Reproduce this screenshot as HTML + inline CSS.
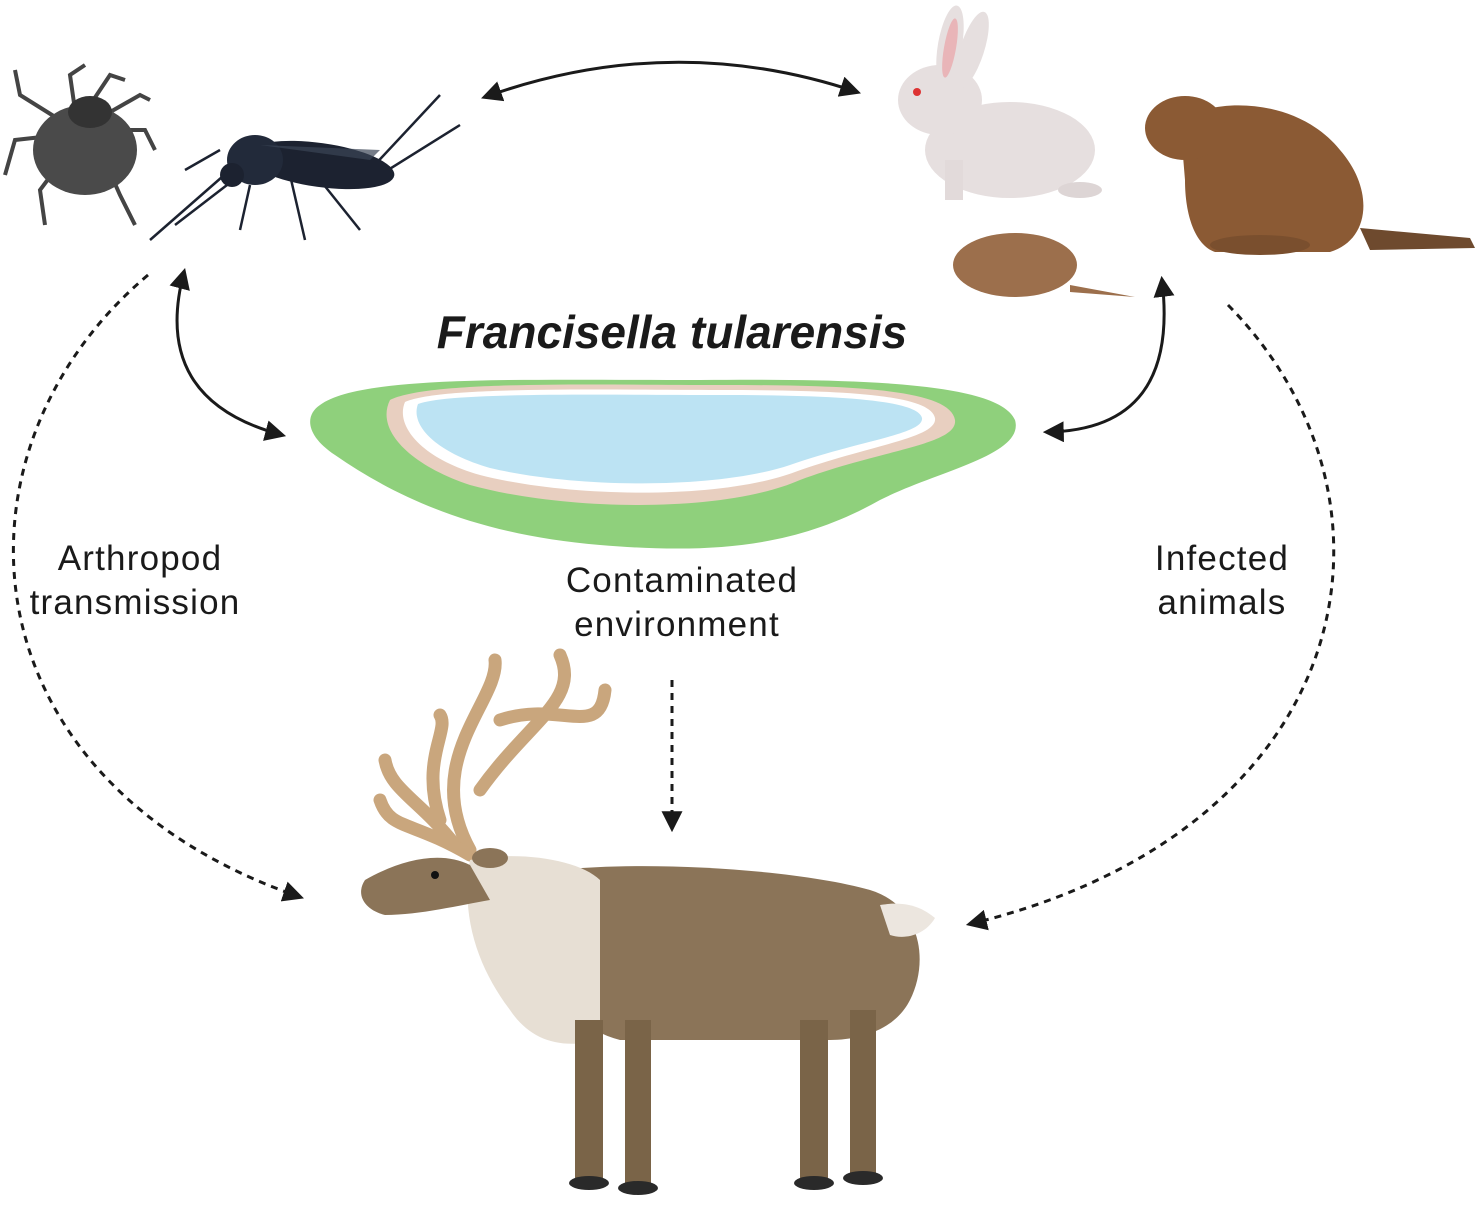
<!DOCTYPE html>
<html><head><meta charset="utf-8"><style>
html,body{margin:0;padding:0;background:#fff;width:1482px;height:1205px;overflow:hidden}
svg{display:block}
text{font-family:"Liberation Sans",sans-serif;fill:#1a1a1a}
</style></head><body>
<svg width="1482" height="1205" viewBox="0 0 1482 1205" xmlns="http://www.w3.org/2000/svg">
<defs>
<marker id="ah" viewBox="0 0 10 10" refX="8" refY="5" markerWidth="7" markerHeight="7" orient="auto-start-reverse"><path d="M0,0 L10,5 L0,10 z" fill="#1a1a1a"/></marker>
</defs>
<!-- tick -->
<g stroke="#444" stroke-width="4" fill="none">
<path d="M60,120 L20,95 L15,70"/><path d="M60,135 L15,140 L5,175"/><path d="M70,150 L40,190 L45,225"/><path d="M100,150 L120,195 L135,225"/><path d="M110,130 L145,130 L155,150"/><path d="M105,115 L140,95 L150,100"/><path d="M75,110 L70,75 L85,65"/><path d="M90,105 L110,75 L125,80"/>
</g>
<ellipse cx="85" cy="150" rx="52" ry="45" fill="#4a4a4a"/>
<ellipse cx="90" cy="112" rx="22" ry="16" fill="#333"/>
<!-- mosquito -->
<g stroke="#1c2230" stroke-width="2.5" fill="none">
<path d="M230,170 L150,240"/><path d="M240,175 L175,225"/><path d="M250,185 L240,230"/><path d="M290,175 L305,240"/><path d="M320,180 L360,230"/><path d="M370,170 L440,95"/><path d="M380,175 L460,125"/><path d="M220,150 L185,170"/>
</g>
<ellipse cx="320" cy="165" rx="75" ry="22" fill="#1c2230" transform="rotate(8 320 165)"/>
<ellipse cx="255" cy="160" rx="28" ry="25" fill="#222a3a"/>
<circle cx="232" cy="175" r="12" fill="#1c2230"/>
<path d="M260,145 L380,150 L370,160 Z" fill="#3a4455" opacity=".7"/>
<!-- rabbit -->
<ellipse cx="1010" cy="150" rx="85" ry="48" fill="#e6dfdf"/>
<ellipse cx="940" cy="100" rx="42" ry="35" fill="#e6dfdf"/>
<ellipse cx="950" cy="45" rx="12" ry="40" fill="#e6dfdf" transform="rotate(10 950 45)"/>
<ellipse cx="972" cy="50" rx="12" ry="40" fill="#e6dfdf" transform="rotate(18 972 50)"/>
<ellipse cx="950" cy="48" rx="6" ry="30" fill="#e9b5b8" transform="rotate(10 950 48)"/>
<rect x="945" y="160" width="18" height="40" fill="#e2dada"/>
<ellipse cx="1080" cy="190" rx="22" ry="8" fill="#ddd5d5"/>
<circle cx="917" cy="92" r="4" fill="#d33"/>
<!-- beaver -->
<path d="M1360,228 L1470,238 L1475,248 L1370,250 Z" fill="#6e4a2e"/>
<path d="M1180,120 C1220,95 1300,100 1340,150 C1375,190 1370,240 1330,252 L1215,252 C1195,245 1185,215 1185,180 Z" fill="#8b5a34"/>
<ellipse cx="1185" cy="128" rx="40" ry="32" fill="#8b5a34"/>
<ellipse cx="1260" cy="245" rx="50" ry="10" fill="#7a4f2e"/>
<!-- vole -->
<ellipse cx="1015" cy="265" rx="62" ry="32" fill="#9c6f4c"/>
<path d="M1070,285 L1135,297 L1070,292 Z" fill="#9c6f4c"/>
<!-- title -->
<text x="672" y="348" text-anchor="middle" font-size="46" font-weight="bold" font-style="italic">Francisella tularensis</text>
<!-- pond -->
<path d="M320,405 C360,375 520,380 700,380 C880,378 1000,385 1015,420 C1025,455 940,470 880,500 C800,545 720,555 600,545 C480,535 400,500 335,455 C305,435 305,415 320,405 Z" fill="#8fd07c"/>
<path d="M390,400 C430,380 600,385 720,385 C860,385 950,390 955,420 C958,445 880,450 800,480 C720,515 560,510 470,485 C410,465 375,430 390,400 Z" fill="#e8cfc0"/>
<path d="M405,402 C440,386 600,390 720,390 C850,390 930,395 935,418 C938,438 870,445 795,472 C720,500 570,498 480,475 C420,458 395,425 405,402 Z" fill="#fff"/>
<path d="M418,404 C450,392 600,395 720,395 C840,395 918,400 922,418 C924,434 862,440 790,465 C715,490 575,488 490,468 C435,452 410,425 418,404 Z" fill="#bce3f3"/>
<!-- solid arrows -->
<g stroke="#1a1a1a" stroke-width="3" fill="none">
<path d="M485,97 Q672,30 857,92" marker-start="url(#ah)" marker-end="url(#ah)"/>
<path d="M184,272 Q150,400 282,435" marker-start="url(#ah)" marker-end="url(#ah)"/>
<path d="M1047,432 Q1180,430 1162,280" marker-start="url(#ah)" marker-end="url(#ah)"/>
</g>
<!-- dashed arrows -->
<g stroke="#1a1a1a" stroke-width="3" fill="none" stroke-dasharray="7,6">
<path d="M148,275 C-60,450 -40,780 300,897" marker-end="url(#ah)"/>
<path d="M1228,305 C1420,500 1360,830 970,924" marker-end="url(#ah)"/>
<path d="M672,680 L672,828" marker-end="url(#ah)"/>
</g>
<!-- labels -->
<g font-size="35" text-anchor="middle" letter-spacing="1.2">
<text x="140" y="570">Arthropod</text><text x="135" y="614">transmission</text>
<text x="682" y="592">Contaminated</text><text x="677" y="636">environment</text>
<text x="1222" y="570">Infected</text><text x="1222" y="614">animals</text>
</g>
<!-- reindeer antlers -->
<g stroke="#c9a67d" stroke-width="13" fill="none" stroke-linecap="round">
<path d="M470,850 C420,760 500,700 495,660"/>
<path d="M480,790 C530,720 580,700 560,655"/>
<path d="M500,720 C560,700 600,740 605,690"/>
<path d="M455,845 C420,800 390,790 385,760"/>
<path d="M440,820 C420,760 450,730 440,715"/>
<path d="M470,855 C410,820 390,830 380,800"/>
</g>
<!-- reindeer body -->
<path d="M560,870 C650,860 800,870 870,890 C920,905 930,960 910,1000 C895,1030 860,1040 830,1040 L620,1040 C580,1030 560,1000 560,960 Z" fill="#8b7458"/>
<path d="M470,860 C520,850 580,860 600,880 L600,1040 C560,1050 530,1040 510,1010 C480,970 460,920 470,860 Z" fill="#e7dfd4"/>
<path d="M880,905 C910,900 925,910 935,918 C925,935 905,940 890,935 Z" fill="#ece6df"/>
<path d="M470,865 C440,850 400,860 365,880 C355,895 365,910 385,915 C420,915 460,905 490,900 Z" fill="#8b7458"/>
<ellipse cx="490" cy="858" rx="18" ry="10" fill="#8b7458"/>
<g fill="#7a6448">
<rect x="575" y="1020" width="28" height="160"/>
<rect x="625" y="1020" width="26" height="165"/>
<rect x="800" y="1020" width="28" height="160"/>
<rect x="850" y="1010" width="26" height="165"/>
</g>
<g fill="#2a2a2a">
<ellipse cx="589" cy="1183" rx="20" ry="7"/><ellipse cx="638" cy="1188" rx="20" ry="7"/>
<ellipse cx="814" cy="1183" rx="20" ry="7"/><ellipse cx="863" cy="1178" rx="20" ry="7"/>
</g>
<circle cx="435" cy="875" r="4" fill="#111"/>
</svg>
</body></html>
